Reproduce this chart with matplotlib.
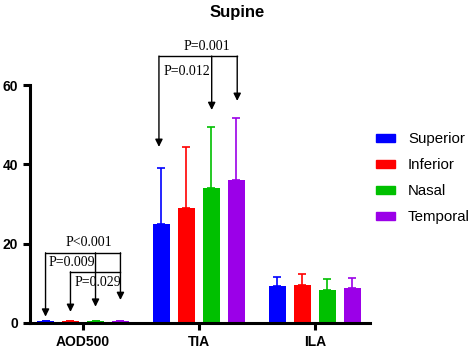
import matplotlib.pyplot as plt
import numpy as np
from matplotlib.patches import Patch

# data
groups = ['AOD500', 'TIA', 'ILA']
series = ['Superior', 'Inferior', 'Nasal', 'Temporal']
colors = ['#0000FF', '#FF0000', '#00C000', '#9B00E8']
means = {
    'Superior': [0.4, 25.0, 9.3],
    'Inferior': [0.45, 29.0, 9.5],
    'Nasal':    [0.5, 34.0, 8.4],
    'Temporal': [0.5, 36.0, 8.8],
}
sds = {
    'Superior': [0.1, 14.1, 2.3],
    'Inferior': [0.1, 15.4, 2.9],
    'Nasal':    [0.1, 15.5, 2.8],
    'Temporal': [0.1, 15.6, 2.6],
}

plt.rcParams['font.family'] = ['Liberation Sans', 'DejaVu Sans']
fig = plt.figure(figsize=(4.74, 3.51), dpi=100)
ax = fig.add_axes([0.0633, 0.0798, 0.717, 0.678])

x = np.arange(len(groups))
width = 0.147
offsets = [-0.323, -0.108, 0.108, 0.323]
for s, c, off in zip(series, colors, offsets):
    ax.bar(x + off, means[s], width, color=c, zorder=2)
    ax.errorbar(x + off, means[s], yerr=[np.zeros(3), sds[s]], fmt='none',
                ecolor=c, elinewidth=1.2, capsize=3, capthick=1.2, zorder=1)

ax.set_xlim(-0.457, 2.474)
ax.set_ylim(0, 60)
ax.set_yticks([0, 20, 40, 60])
ax.set_xticks(x)
ax.set_xticklabels(groups)
for sp in ['top', 'right']:
    ax.spines[sp].set_visible(False)
for sp in ['left', 'bottom']:
    ax.spines[sp].set_linewidth(2.2)
ax.tick_params(width=2.2, length=5, labelsize=10)
for lab in ax.get_xticklabels() + ax.get_yticklabels():
    lab.set_fontweight('bold')

# significance arrows
def arrow(xp, y0, y1):
    ax.annotate('', xy=(xp, y1), xytext=(xp, y0), annotation_clip=False,
                arrowprops=dict(arrowstyle='-|>', color='k', lw=1, mutation_scale=11,
                                shrinkA=0, shrinkB=0))

def hline(x0, x1, y):
    ax.plot([x0, x1], [y, y], color='k', lw=1, clip_on=False)

pfont = dict(family='Liberation Serif', fontsize=10, ha='center', va='center')

# AOD500
hline(-0.323, 0.323, 17.7)
hline(-0.108, 0.323, 12.9)
arrow(-0.323, 17.7, 1.6)
arrow(-0.108, 12.9, 2.8)
arrow(0.108, 17.7, 4.1)
arrow(0.323, 17.7, 5.8)
ax.text(0.05, 20.2, 'P<0.001', **pfont)
ax.text(-0.095, 15.2, 'P=0.009', **pfont)
ax.text(0.129, 10.2, 'P=0.029', **pfont)

# TIA
hline(1 - 0.345, 1.33, 67.3)
arrow(1 - 0.345, 67.3, 44.4)
arrow(1.11, 67.3, 53.7)
arrow(1.33, 67.3, 56.0)
ax.text(1.066, 69.6, 'P=0.001', **pfont)
ax.text(0.894, 63.3, 'P=0.012', **pfont)

handles = [Patch(color=c, label=s) for s, c in zip(series, colors)]
fig.legend(handles=handles, loc='upper left', bbox_to_anchor=(0.764, 0.662),
           frameon=False, fontsize=10.8, handlelength=1.3, handleheight=0.5,
           labelspacing=0.8, handletextpad=0.85)

fig.text(0.5, 0.965, 'Supine', ha='center', va='center', fontsize=12, fontweight='bold')

fig.savefig('out.png', dpi=100)
